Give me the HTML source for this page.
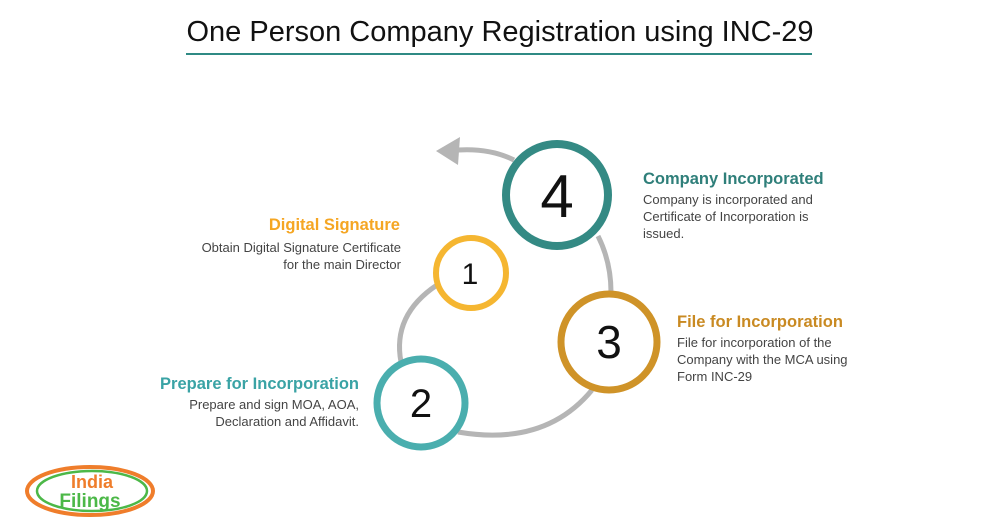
<!DOCTYPE html>
<html><head><meta charset="utf-8"><style>
body{margin:0;width:1000px;height:524px;background:#fff;position:relative;overflow:hidden;font-family:"Liberation Sans",sans-serif}
.t{position:absolute;font-size:13px;color:#444;line-height:17px}
.h{position:absolute;font-weight:bold;font-size:16.5px}
</style></head><body>
<div style="position:absolute;left:0;width:1000px;top:16px;text-align:center;font-size:29px;color:#111">One Person Company Registration using INC-29</div>
<div style="position:absolute;left:186px;width:626px;top:53px;height:2px;background:#2f8a84"></div>
<svg width="1000" height="524" style="position:absolute;left:0;top:0">
<g fill="none" stroke="#b5b5b5" stroke-width="5">
<path d="M437,285 Q392,315 401,362"/>
<path d="M458,432 Q545,447 592,390"/>
<path d="M611,292 Q611,262 598,236"/>
<path d="M514,160 Q490,148 458,150"/>
</g>
<polygon points="436,151 460,137 458,165" fill="#b5b5b5"/>
<g fill="#fff">
<circle cx="471" cy="273" r="35" stroke="#f5b631" stroke-width="6"/>
<circle cx="421" cy="403" r="44" stroke="#4aaeae" stroke-width="7"/>
<circle cx="609" cy="342" r="48" stroke="#cf9328" stroke-width="7"/>
<circle cx="557" cy="195" r="51" stroke="#348a84" stroke-width="8"/>
</g>
<g font-family="Liberation Sans,sans-serif" fill="#111" text-anchor="middle">
<text x="470" y="284" font-size="30">1</text>
<text x="421" y="417" font-size="40">2</text>
<text x="609" y="358" font-size="46">3</text>
<text x="557" y="217" font-size="60">4</text>
</g>
<ellipse cx="90" cy="491" rx="63" ry="24" fill="none" stroke="#ef7d2b" stroke-width="4"/>
<ellipse cx="92" cy="491" rx="55" ry="20" fill="none" stroke="#4cb848" stroke-width="2.5"/>
<text x="92" y="488" text-anchor="middle" font-family="Liberation Sans,sans-serif" font-weight="bold" font-size="18" fill="#ef7d2b">India</text>
<text x="90" y="507" text-anchor="middle" font-family="Liberation Sans,sans-serif" font-weight="bold" font-size="19" fill="#4cb848">Filings</text>
</svg>
<div class="h" style="left:643px;top:170px;color:#2f7f7a">Company Incorporated</div>
<div class="t" style="left:643px;top:191px">Company is incorporated and<br>Certificate of Incorporation is<br>issued.</div>
<div class="h" style="right:600px;top:216px;color:#f5a623;text-align:right">Digital Signature</div>
<div class="t" style="right:599px;top:239px;text-align:right">Obtain Digital Signature Certificate<br>for the main Director</div>
<div class="h" style="left:677px;top:313px;color:#c98a22">File for Incorporation</div>
<div class="t" style="left:677px;top:334px">File for incorporation of the<br>Company with the MCA using<br>Form INC-29</div>
<div class="h" style="right:641px;top:375px;color:#3aa3a5;text-align:right">Prepare for Incorporation</div>
<div class="t" style="right:641px;top:396px;text-align:right">Prepare and sign MOA, AOA,<br>Declaration and Affidavit.</div>
</body></html>
